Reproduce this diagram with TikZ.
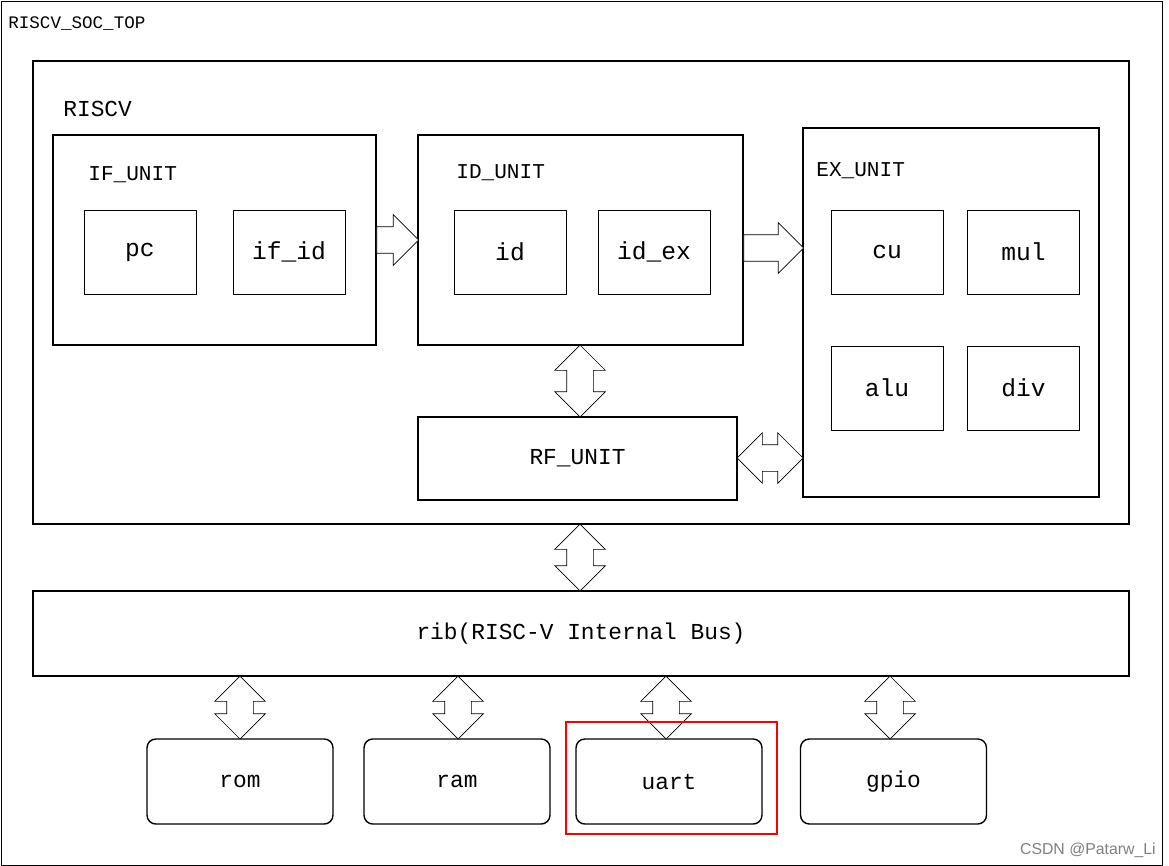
\documentclass[tikz,border=0pt]{standalone}
\usepackage{fontspec}
\setmainfont{Liberation Mono}
\newfontfamily\wmfont{Liberation Sans}
\usetikzlibrary{shapes,arrows,calc,positioning}
\tikzset{
  box/.style = {draw, thick, minimum width=#1},
  cell/.style = {draw, minimum width=2.24cm, minimum height=1.68cm, font=\fontsize{14}{16}\selectfont},
  dev/.style = {draw, thick, rounded corners=5pt, minimum width=3.72cm, minimum height=1.7cm, font=\fontsize{13}{15}\selectfont},
  tag/.style = {anchor=west, inner sep=0pt, font=\fontsize{12}{14}\selectfont},
  fwd/.style = {draw, fill=white, single arrow, inner xsep=0pt, inner ysep=0.26cm, single arrow head extend=0.24cm, single arrow head indent=0pt, minimum height=#1},
  both/.style = {draw, fill=white, double arrow, inner xsep=0pt, inner ysep=0.26cm, double arrow head extend=0.24cm, double arrow head indent=0pt, minimum height=#1}
}
\begin{document}
\begin{tikzpicture}[x=0.02cm,y=-0.02cm]
\useasboundingbox (0,0) rectangle (1169,865);
\draw (1,1) rectangle (1162,865);
\node[tag, font=\fontsize{10}{12}\selectfont] (top) at (8,24) {RISCV\_SOC\_TOP};

% core
\node[box=21.92cm, minimum height=9.26cm] (riscv) at (581,292.5) {};
\node[tag, font=\fontsize{13}{15}\selectfont] (riscvl) at (63,109) {RISCV};

\node[box=6.46cm, minimum height=4.2cm] (ifu) at (214.5,240) {};
\node[tag] (ifl) at (88,175) {IF\_UNIT};
\node[cell] (pc) at (140,252) {pc};
\node[cell] (ifid) at (289,252) {if\_id};

\node[box=6.5cm, minimum height=4.2cm] (idu) at (580.5,240) {};
\node[tag] (idl) at (456,173) {ID\_UNIT};
\node[cell] (id) at (510,252) {id};
\node[cell] (idex) at (654,252) {id\_ex};

\node[box=5.92cm, minimum height=7.38cm] (exu) at (951,312.5) {};
\node[tag] (exl) at (816,171) {EX\_UNIT};
\node[cell] (cu) at (887,252) {cu};
\node[cell] (mul) at (1023.5,252) {mul};
\node[cell] (alu) at (887,388) {alu};
\node[cell] (div) at (1023.5,388) {div};

\node[box=6.38cm, minimum height=1.66cm, font=\fontsize{13}{15}\selectfont] (rf) at (577.5,458.5) {RF\_UNIT};

% arrows inside core
\node[fwd=0.84cm] (a1) at (391,240) {};
\node[fwd=1.2cm] (a2) at (767,248) {};
\node[both=1.44cm, rotate=90] (a3) at (580,381) {};
\node[both=1.32cm] (a4) at (770,458) {};

% bus
\node[box=21.92cm, minimum height=1.7cm, font=\fontsize{13}{15}\selectfont] (rib) at (581,633.5) {rib(RISC-V Internal Bus)};
\node[both=1.34cm, rotate=90] (a5) at (580,557.5) {};

% devices
\foreach \n/\x in {rom/240, ram/457, uart/669, gpio/893.5} {
  \node[dev] (\n) at (\x,781.5) {\n};
}
\foreach \n/\x in {b1/240, b2/458, b3/666, b4/890} {
  \node[both=1.26cm, rotate=90] (\n) at (\x,707.5) {};
}
\node[draw=red, very thick, minimum width=4.22cm, minimum height=2.24cm] (mark) at (671.5,778) {};

\node[anchor=east, inner sep=0pt, text=gray, font=\wmfont\fontsize{9}{11}\selectfont] (wm) at (1156,850) {CSDN @Patarw\_Li};
\end{tikzpicture}
\end{document}
